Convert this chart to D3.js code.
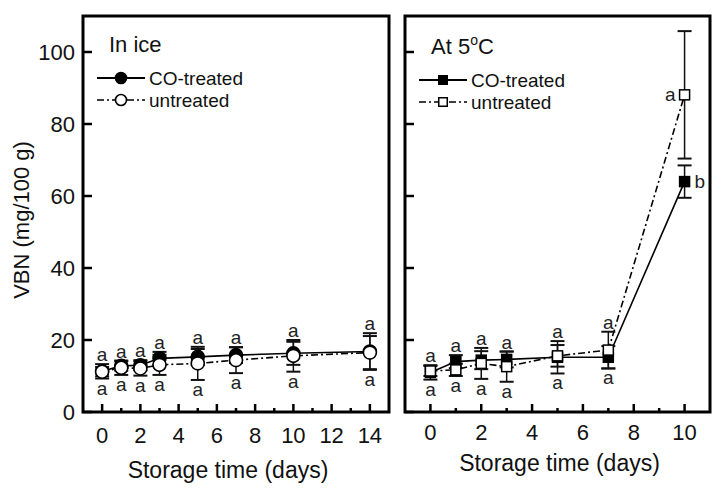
<!DOCTYPE html>
<html>
<head>
<meta charset="utf-8">
<script src="https://cdn.jsdelivr.net/npm/d3@7"></script>
<style>
  body { margin: 0; background: white; }
  svg { font-family: "Liberation Sans", Arial, sans-serif; }
</style>
</head>
<body>
<div id="chart"></div>
<script>
// In ice panel
const iceDays = [0, 1, 2, 3, 5, 7, 10, 14];
const iceCO = [11.3, 12.8, 13.0, 14.9, 15.3, 15.8, 16.3, 16.8];
const iceCOErr = [2.0, 1.3, 1.4, 1.8, 2.2, 2.2, 3.2, 5.1];
const iceUn = [11.2, 12.3, 12.1, 13.1, 13.5, 14.4, 15.6, 16.5];
const iceUnErr = [1.3, 2.0, 2.0, 2.8, 4.6, 3.6, 4.4, 4.6];
const iceLetterCO = ["a", "a", "a", "a", "a", "a", "a", "a"];
const iceLetterUn = ["a", "a", "a", "a", "a", "a", "a", "a"];

// At 5 C panel
const coldDays = [0, 1, 2, 3, 5, 7, 10];
const coldCO = [11.0, 14.0, 14.4, 14.6, 15.2, 15.2, 64.0];
const coldCOErr = [2.0, 1.8, 2.5, 2.2, 4.5, 3.1, 4.5];
const coldUn = [11.4, 11.7, 13.5, 12.6, 15.6, 17.2, 88.1];
const coldUnErr = [1.4, 1.7, 4.3, 4.2, 3.0, 5.1, 17.7];
const coldLetterCO = ["a", "a", "a", "a", "a", "a", "b"];
const coldLetterUn = ["a", "a", "a", "a", "a", "a", "a"];

const yTicks = [0, 20, 40, 60, 80, 100];
const iceXTicks = [0, 2, 4, 6, 8, 10, 12, 14];
const coldXTicks = [0, 2, 4, 6, 8, 10];

const width = 720, height = 492;
const svg = d3.select("#chart").append("svg")
    .attr("width", width).attr("height", height);

const y = d3.scaleLinear().domain([0, 110]).range([412, 16]);
const dashUn = "7,3,2,3";

function drawPanel(cfg) {
    const x = d3.scaleLinear().domain(cfg.xDomain).range(cfg.xRange);
    const g = svg.append("g");
    const co = cfg.days.map((d, i) => ({day: d, v: cfg.co[i], e: cfg.coErr[i], l: cfg.letterCO[i]}));
    const un = cfg.days.map((d, i) => ({day: d, v: cfg.un[i], e: cfg.unErr[i], l: cfg.letterUn[i]}));

    // minor x ticks (odd days) and major ticks, pointing in
    const minor = d3.range(Math.ceil(cfg.xDomain[0]) + 1, cfg.xDomain[1]).filter(d => !cfg.xTicks.includes(d));
    g.selectAll(".minor").data(minor).join("line")
        .attr("x1", d => x(d)).attr("x2", d => x(d))
        .attr("y1", y(0)).attr("y2", y(0) - 4)
        .attr("stroke", "black").attr("stroke-width", 2.5);
    g.selectAll(".major").data(cfg.xTicks).join("line")
        .attr("x1", d => x(d)).attr("x2", d => x(d))
        .attr("y1", y(0)).attr("y2", y(0) - 8)
        .attr("stroke", "black").attr("stroke-width", 2.5);
    g.selectAll(".ytick").data(yTicks).join("line")
        .attr("x1", cfg.xRange[0]).attr("x2", cfg.xRange[0] + 9)
        .attr("y1", d => y(d)).attr("y2", d => y(d))
        .attr("stroke", "black").attr("stroke-width", 2.5);

    g.selectAll(".xlab").data(cfg.xTicks).join("text")
        .attr("x", d => x(d)).attr("y", cfg.xLabY)
        .attr("text-anchor", "middle").attr("font-size", 22)
        .attr("fill", "#111").text(d => d);

    if (cfg.yLabels) {
        g.selectAll(".ylab").data(yTicks).join("text")
            .attr("x", cfg.xRange[0] - 8).attr("y", d => y(d))
            .attr("dy", "0.36em")
            .attr("text-anchor", "end").attr("font-size", 22)
            .attr("fill", "#111").text(d => d);
    }

    g.append("text")
        .attr("x", (cfg.xRange[0] + cfg.xRange[1]) / 2 + cfg.titleDx)
        .attr("y", cfg.titleY)
        .attr("text-anchor", "middle").attr("font-size", 23)
        .attr("fill", "#111").text("Storage time (days)");

    // lines
    const line = d3.line().x(d => x(d.day)).y(d => y(d.v));
    g.append("path").datum(co).attr("d", line)
        .attr("fill", "none").attr("stroke", "black").attr("stroke-width", 1.6);
    g.append("path").datum(un).attr("d", line)
        .attr("fill", "none").attr("stroke", "black").attr("stroke-width", 1.6)
        .attr("stroke-dasharray", dashUn);

    // error bars
    const bars = co.concat(un);
    g.selectAll(".eb").data(bars).join("line")
        .attr("x1", d => x(d.day)).attr("x2", d => x(d.day))
        .attr("y1", d => y(d.v - d.e)).attr("y2", d => y(d.v + d.e))
        .attr("stroke", "#111").attr("stroke-width", 1.5);
    const caps = bars.flatMap(d => [{day: d.day, v: d.v - d.e}, {day: d.day, v: d.v + d.e}]);
    g.selectAll(".cap").data(caps).join("line")
        .attr("x1", d => x(d.day) - 7).attr("x2", d => x(d.day) + 7)
        .attr("y1", d => y(d.v)).attr("y2", d => y(d.v))
        .attr("stroke", "#111").attr("stroke-width", 2);

    // markers
    drawMarkers(g, co, x, cfg.shape, "black");
    drawMarkers(g, un, x, cfg.shape, "white");

    // significance letters
    co.forEach((c, i) => {
        const u = un[i];
        const apart = (c.v + c.e < u.v - u.e) || (u.v + u.e < c.v - c.e);
        if (apart) {
            g.append("text").attr("x", x(u.day) - 9).attr("y", y(u.v) + 6)
                .attr("text-anchor", "end").attr("font-size", 19).attr("fill", "#222").text(u.l);
            g.append("text").attr("x", x(c.day) + 10).attr("y", y(c.v) + 6)
                .attr("text-anchor", "start").attr("font-size", 19).attr("fill", "#222").text(c.l);
        } else {
            const top = Math.max(c.v + c.e, u.v + u.e);
            const bot = Math.min(c.v - c.e, u.v - u.e);
            g.append("text").attr("x", x(c.day)).attr("y", y(top) - 3)
                .attr("text-anchor", "middle").attr("font-size", 19).attr("fill", "#222").text(c.l);
            g.append("text").attr("x", x(u.day)).attr("y", y(bot) + 16)
                .attr("text-anchor", "middle").attr("font-size", 19).attr("fill", "#222").text(u.l);
        }
    });

    // frame
    g.append("rect")
        .attr("x", cfg.xRange[0]).attr("y", y(110))
        .attr("width", cfg.xRange[1] - cfg.xRange[0]).attr("height", y(0) - y(110))
        .attr("fill", "none").attr("stroke", "black").attr("stroke-width", 3);

    // legend
    const lg = g.append("g");
    const title = lg.append("text").attr("x", cfg.legX + 4).attr("y", cfg.legY - 26)
        .attr("font-size", 22).attr("fill", "#111");
    title.append("tspan").text(cfg.title[0]);
    if (cfg.title.length > 1) {
        title.append("tspan").attr("font-size", 14).attr("dy", -9).text(cfg.title[1]);
        title.append("tspan").attr("dy", 9).text(cfg.title[2]);
    }
    const items = [
        {name: "CO-treated", fill: "black", dash: null, dy: 0},
        {name: "untreated", fill: "white", dash: dashUn, dy: 22}
    ];
    items.forEach(it => {
        const ly = cfg.legY + it.dy;
        lg.append("line").attr("x1", cfg.legX - 8).attr("x2", cfg.legX + 40)
            .attr("y1", ly).attr("y2", ly)
            .attr("stroke", "black").attr("stroke-width", it.dash ? 1.6 : 2.2)
            .attr("stroke-dasharray", it.dash);
        drawMarkers(lg, [{px: cfg.legX + 16, py: ly}], null, cfg.shape, it.fill, 0.85);
        lg.append("text").attr("x", cfg.legX + 44).attr("y", ly).attr("dy", "0.36em")
            .attr("font-size", 19).attr("fill", "#111").text(it.name);
    });
}

function drawMarkers(g, data, x, shape, fill, k = 1) {
    const px = d => d.px !== undefined ? d.px : x(d.day);
    const py = d => d.py !== undefined ? d.py : y(d.v);
    if (shape === "circle") {
        g.selectAll(null).data(data).join("circle")
            .attr("cx", px).attr("cy", py).attr("r", 6.5 * k)
            .attr("fill", fill).attr("stroke", "black").attr("stroke-width", 1.6);
    } else {
        const s = 10 * k;
        g.selectAll(null).data(data).join("rect")
            .attr("x", d => px(d) - s / 2).attr("y", d => py(d) - s / 2)
            .attr("width", s).attr("height", s)
            .attr("fill", fill).attr("stroke", "black").attr("stroke-width", 1.5);
    }
}

drawPanel({
    days: iceDays, co: iceCO, coErr: iceCOErr, un: iceUn, unErr: iceUnErr,
    letterCO: iceLetterCO, letterUn: iceLetterUn,
    xDomain: [-1, 15], xRange: [83, 389], xTicks: iceXTicks,
    xLabY: 443, titleY: 478, titleDx: -8, yLabels: true,
    shape: "circle", title: ["In ice"], legX: 105, legY: 78
});
drawPanel({
    days: coldDays, co: coldCO, coErr: coldCOErr, un: coldUn, unErr: coldUnErr,
    letterCO: coldLetterCO, letterUn: coldLetterUn,
    xDomain: [-1, 11], xRange: [405, 710], xTicks: coldXTicks,
    xLabY: 440, titleY: 471, titleDx: 2, yLabels: false,
    shape: "square", title: ["At 5", "o", "C"], legX: 427, legY: 80
});

// y axis title
svg.append("text")
    .attr("transform", "translate(29,220) rotate(-90)")
    .attr("text-anchor", "middle").attr("font-size", 22)
    .attr("fill", "#111").text("VBN (mg/100 g)");
</script>
</body>
</html>
